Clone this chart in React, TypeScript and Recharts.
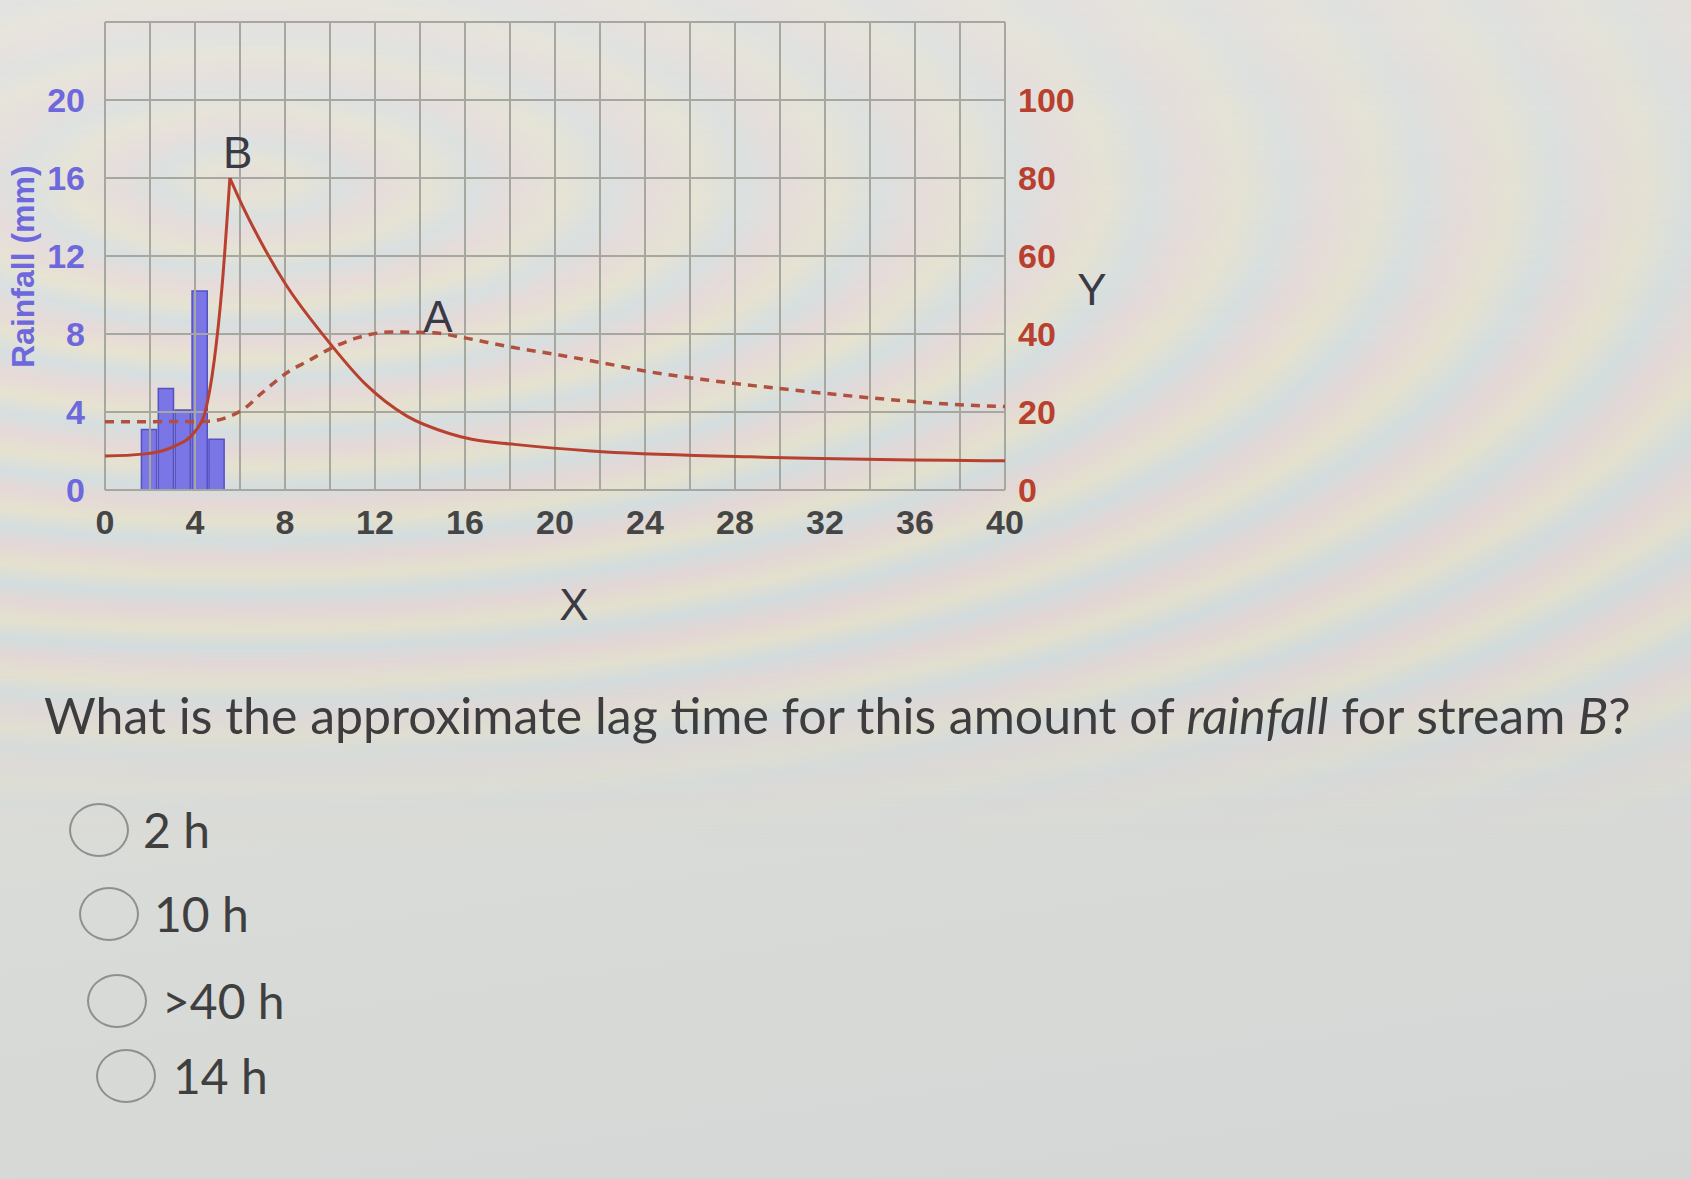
import React from "react"
import { ComposedChart, Bar, Line, XAxis, YAxis, ReferenceLine, ReferenceDot, Label } from "recharts"

// hours on the x axis
const xTicks = [0, 4, 8, 12, 16, 20, 24, 28, 32, 36, 40]
const gridHours = [0, 2, 4, 6, 8, 10, 12, 14, 16, 18, 20, 22, 24, 26, 28, 30, 32, 34, 36, 38, 40]
// left axis: rainfall, right axis: discharge
const rainTicks = [0, 4, 8, 12, 16, 20]
const gridLevels = [0, 4, 8, 12, 16, 20, 24]
const flowTicks = [0, 20, 40, 60, 80, 100]

const rainfall = [
  { t: 1.95, rain: 3.1 },
  { t: 2.7, rain: 5.2 },
  { t: 3.45, rain: 4.1 },
  { t: 4.2, rain: 10.2 },
  { t: 4.95, rain: 2.6 },
]

// stream B: rising limb and recession, split at the peak so it stays sharp
const streamBRise = [
  { t: 0, q: 8.7 },
  { t: 1.7, q: 9.2 },
  { t: 3, q: 11 },
  { t: 4.0, q: 15 },
  { t: 4.45, q: 20 },
  { t: 4.85, q: 33 },
  { t: 5.2, q: 52 },
  { t: 5.55, q: 80 },
]
const streamBFall = [
  { t: 5.55, q: 80 },
  { t: 6.1, q: 73 },
  { t: 6.8, q: 65 },
  { t: 8, q: 53 },
  { t: 9.8, q: 39 },
  { t: 11.6, q: 27 },
  { t: 13.4, q: 19 },
  { t: 15.3, q: 14.5 },
  { t: 16.3, q: 13 },
  { t: 18.2, q: 11.7 },
  { t: 21.6, q: 10 },
  { t: 28.7, q: 8.5 },
  { t: 40, q: 7.5 },
]

const streamA = [
  { t: 0, q: 17.5 },
  { t: 4.6, q: 17.6 },
  { t: 5.4, q: 18.6 },
  { t: 6.1, q: 20.5 },
  { t: 7.0, q: 25 },
  { t: 8.2, q: 30.5 },
  { t: 9.0, q: 33 },
  { t: 10.0, q: 36.2 },
  { t: 11.2, q: 39 },
  { t: 12.7, q: 40.5 },
  { t: 14.6, q: 40.3 },
  { t: 16, q: 39 },
  { t: 17.9, q: 36.8 },
  { t: 20.3, q: 34.5 },
  { t: 22.2, q: 32.5 },
  { t: 24.1, q: 30.4 },
  { t: 26.5, q: 28.4 },
  { t: 28.9, q: 26.7 },
  { t: 31.3, q: 25.2 },
  { t: 33.7, q: 23.8 },
  { t: 36.1, q: 22.6 },
  { t: 38.5, q: 21.7 },
  { t: 40, q: 21.4 },
]

const answers = ["2 h", "10 h", ">40 h", "14 h"]

const GRID = "#a6a89f"
const RAIN = "#6d68dc"
const FLOW = "#b8402f"
const INK = "#3a3a46"
const PLOT_W = 900
const SANS = "Liberation Sans, Arial, sans-serif"

const tickFont = { fontFamily: SANS, fontWeight: 700, fontSize: 34 }

// option rows, drifting right a little like the photo
const optionPos = [
  { top: 803, left: 69, textLeft: 143 },
  { top: 887, left: 79, textLeft: 154 },
  { top: 974, left: 87, textLeft: 162 },
  { top: 1049, left: 96, textLeft: 173 },
]

const CHART_W = 1200
const CHART_H = 640

export default function App() {
  return (
    <div
      style={{
        position: "absolute",
        left: 0,
        top: 0,
        width: 1691,
        height: 1179,
        overflow: "hidden",
        background: "linear-gradient(172deg, #e6e5e1 0%, #dedfda 40%, #d3d6d5 100%)",
        fontFamily: "Lato, 'Open Sans', sans-serif",
      }}
    >
      <div
        style={{
          position: "absolute",
          inset: 0,
          background:
            "repeating-radial-gradient(ellipse 1500px 600px at 250px 180px, rgba(255,190,200,0.2) 0px, rgba(255,235,160,0.2) 45px, rgba(175,215,240,0.2) 90px, rgba(255,190,200,0.2) 135px)",
          WebkitMaskImage: "linear-gradient(180deg, rgba(0,0,0,0.3) 0%, #000 30%, #000 55%, rgba(0,0,0,0) 72%)",
          maskImage: "linear-gradient(180deg, rgba(0,0,0,0.3) 0%, #000 30%, #000 55%, rgba(0,0,0,0) 72%)",
        }}
      />
      {/* x axis, rainfall axis, grid and rainfall bars */}
      <div style={{ position: "absolute", left: 0, top: 0 }}>
        <ComposedChart
          width={CHART_W}
          height={CHART_H}
          data={rainfall}
          margin={{ top: 22, right: 195, bottom: 100, left: 45 }}
        >
          <XAxis
            dataKey="t"
            type="number"
            domain={[0, 40]}
            ticks={xTicks}
            height={50}
            tickSize={0}
            tickMargin={20}
            axisLine={false}
            tick={{ ...tickFont, fill: "#454545" }}
          >
            <Label value="X" position="center" dx={19} dy={89} fill={INK} fontSize={44} fontFamily={SANS} />
          </XAxis>
          <YAxis
            yAxisId="rain"
            domain={[0, 24]}
            ticks={rainTicks}
            width={60}
            tickSize={0}
            tickMargin={20}
            axisLine={false}
            tick={{ ...tickFont, fill: RAIN }}
          />
          {gridHours.map((h) => (
            <ReferenceLine key={"gx" + h} x={h} yAxisId="rain" stroke={GRID} strokeWidth={2} />
          ))}
          {gridLevels.map((v) => (
            <ReferenceLine key={"gy" + v} y={v} yAxisId="rain" stroke={GRID} strokeWidth={2} />
          ))}
          <Bar
            yAxisId="rain"
            dataKey="rain"
            fill="#7a76e6"
            stroke="#5550c4"
            strokeWidth={1.5}
            barSize={(0.75 * PLOT_W) / 40}
            isAnimationActive={false}
          />
        </ComposedChart>
      </div>
      {/* discharge axis and hydrographs on the same plot area */}
      <div style={{ position: "absolute", left: 0, top: 0 }}>
        <ComposedChart
          width={CHART_W}
          height={CHART_H}
          margin={{ top: 22, right: 95, bottom: 150, left: 105 }}
        >
          <XAxis dataKey="t" type="number" domain={[0, 40]} hide />
          <YAxis
            yAxisId="flow"
            orientation="right"
            domain={[0, 120]}
            ticks={flowTicks}
            width={100}
            tickSize={0}
            tickMargin={13}
            axisLine={false}
            tick={{ ...tickFont, fill: FLOW }}
          >
            <Label value="Y" position="center" dx={37} dy={33} fill={INK} fontSize={44} fontFamily={SANS} />
          </YAxis>
          <Line
            yAxisId="flow"
            data={streamA}
            dataKey="q"
            type="monotone"
            stroke="#b0503e"
            strokeWidth={3.5}
            strokeDasharray="9 7"
            dot={false}
            isAnimationActive={false}
          />
          <Line
            yAxisId="flow"
            data={streamBRise}
            dataKey="q"
            type="monotone"
            stroke={FLOW}
            strokeWidth={3}
            dot={false}
            isAnimationActive={false}
          />
          <Line
            yAxisId="flow"
            data={streamBFall}
            dataKey="q"
            type="monotone"
            stroke={FLOW}
            strokeWidth={3}
            dot={false}
            isAnimationActive={false}
          />
          <ReferenceDot
            x={14.8}
            y={44.5}
            yAxisId="flow"
            r={0}
            stroke="none"
            label={{ value: "A", position: "center", fill: INK, fontSize: 44, fontFamily: SANS }}
          />
          <ReferenceDot
            x={5.9}
            y={86.5}
            yAxisId="flow"
            r={0}
            stroke="none"
            label={{ value: "B", position: "center", fill: INK, fontSize: 44, fontFamily: SANS }}
          />
        </ComposedChart>
      </div>
      <div
        style={{
          position: "absolute",
          left: 4,
          top: 368,
          transform: "rotate(-90deg)",
          transformOrigin: "0 0",
          whiteSpace: "nowrap",
          fontFamily: SANS,
          fontWeight: 700,
          fontSize: 32,
          lineHeight: "38px",
          color: RAIN,
        }}
      >
        Rainfall (mm)
      </div>
      <div
        style={{
          position: "absolute",
          left: 44,
          top: 686,
          fontSize: 50,
          lineHeight: "58px",
          color: "#3d3d3f",
          whiteSpace: "nowrap",
        }}
      >
        What is the approximate lag time for this amount of <i>rainfall</i> for stream <i>B</i>?
      </div>
      {answers.map((a, i) => (
        <React.Fragment key={a}>
          <div
            style={{
              position: "absolute",
              left: optionPos[i].left,
              top: optionPos[i].top,
              width: 60,
              height: 54,
              borderRadius: "50%",
              border: "2px solid #8e9090",
              boxSizing: "border-box",
            }}
          />
          <div
            style={{
              position: "absolute",
              left: optionPos[i].textLeft,
              top: optionPos[i].top,
              fontSize: 48,
              lineHeight: "54px",
              color: "#3f3f40",
              whiteSpace: "nowrap",
            }}
          >
            {a}
          </div>
        </React.Fragment>
      ))}
    </div>
  )
}
